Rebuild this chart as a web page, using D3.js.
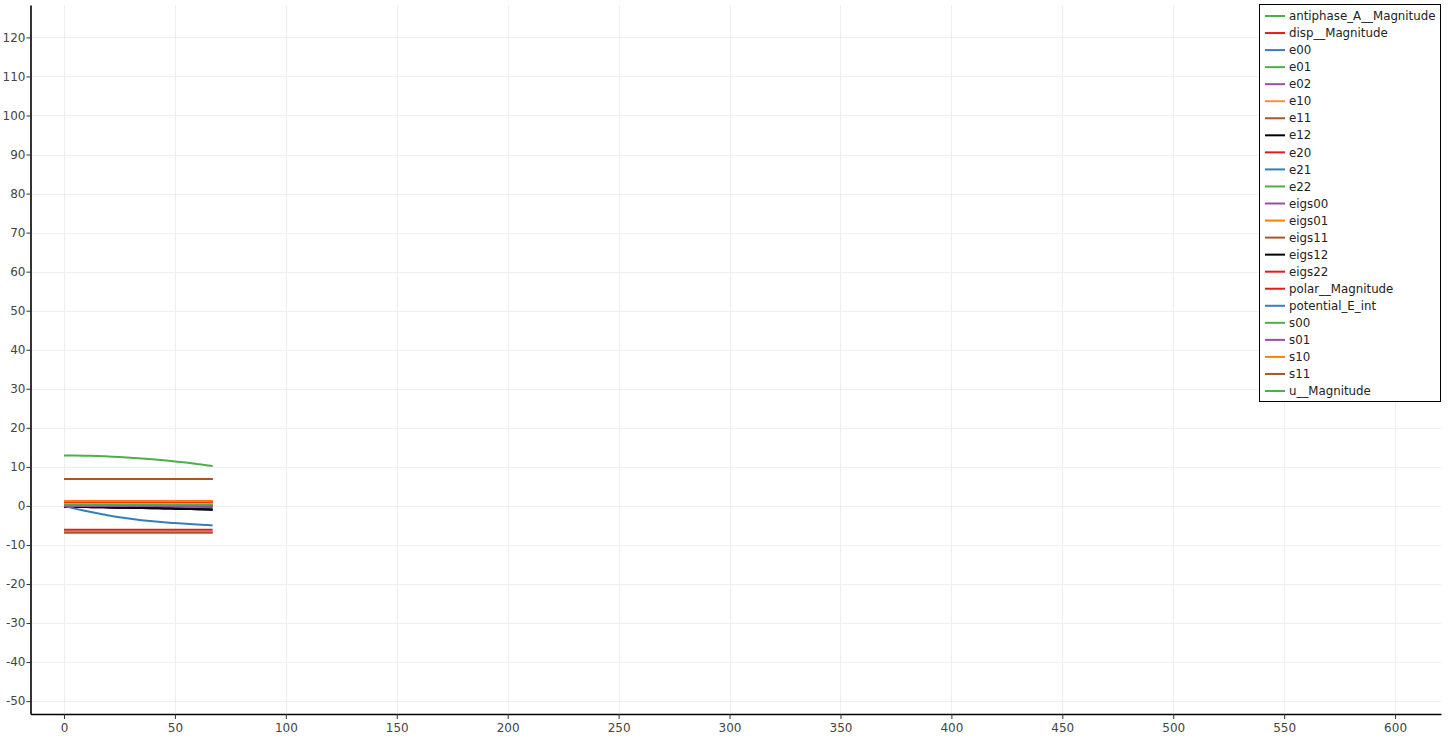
<!DOCTYPE html>
<html><head><meta charset="utf-8">
<script src="https://cdn.jsdelivr.net/npm/d3@7"></script>
<style>
html,body{margin:0;padding:0;background:#fff;}
svg{display:block;font-family:"DejaVu Sans",sans-serif;}
</style></head>
<body><svg id="c" width="1449" height="740"></svg>
<script>
// ---- data ----
const xTicks = [0,50,100,150,200,250,300,350,400,450,500,550,600];
const yTicks = [-50,-40,-30,-20,-10,0,10,20,30,40,50,60,70,80,90,100,110,120];
const xs = [0,5,10,15,20,25,30,35,40,45,50,55,60,65,67];

const seriesNames = ["antiphase_A__Magnitude","disp__Magnitude","e00","e01","e02","e10","e11","e12","e20","e21","e22",
  "eigs00","eigs01","eigs11","eigs12","eigs22","polar__Magnitude","potential_E_int","s00","s01","s10","s11","u__Magnitude"];
const seriesColors = ["#4daf4a","#e41a1c","#377eb8","#4daf4a","#984ea3","#ff8c42","#a65628","#000000","#e41a1c","#377eb8","#4daf4a",
  "#984ea3","#ff7f00","#a65628","#000000","#e41a1c","#e41a1c","#377eb8","#4daf4a","#984ea3","#ff7f00","#a65628","#4daf4a"];

const antiphase_A__Magnitude = [12.9,12.89,12.84,12.77,12.66,12.53,12.36,12.17,11.94,11.69,11.4,11.09,10.74,10.37,10.2];
const disp__Magnitude = [1.0,1.0,1.0,1.0,1.0,1.0,1.0,1.0,1.0,1.0,1.0,1.0,1.0,1.0,1.0];
const e00 = [0.0,-0.05,-0.1,-0.15,-0.2,-0.25,-0.3,-0.35,-0.4,-0.45,-0.5,-0.55,-0.6,-0.65,-0.67];
const e01 = [0.2,0.2,0.2,0.2,0.2,0.2,0.2,0.2,0.2,0.2,0.2,0.2,0.2,0.2,0.2];
const e02 = [0.0,0.0,0.0,0.0,0.0,0.0,0.0,0.0,0.0,0.0,0.0,0.0,0.0,0.0,0.0];
const e10 = [1.1,1.1,1.1,1.1,1.1,1.1,1.1,1.1,1.1,1.1,1.1,1.1,1.1,1.1,1.1];
const e11 = [6.9,6.9,6.9,6.9,6.9,6.9,6.9,6.9,6.9,6.9,6.9,6.9,6.9,6.9,6.9];
const e12 = [-0.2,-0.25,-0.3,-0.35,-0.4,-0.45,-0.5,-0.55,-0.6,-0.65,-0.7,-0.78,-0.86,-0.95,-1.0];
const e20 = [0.95,0.95,0.95,0.95,0.95,0.95,0.95,0.95,0.95,0.95,0.95,0.95,0.95,0.95,0.95];
const e21 = [0.0,-0.02,-0.04,-0.06,-0.08,-0.1,-0.12,-0.14,-0.16,-0.18,-0.2,-0.22,-0.24,-0.26,-0.27];
const e22 = [0.3,0.3,0.3,0.3,0.3,0.3,0.3,0.3,0.3,0.3,0.3,0.3,0.3,0.3,0.3];
const eigs00 = [-6.8,-6.8,-6.8,-6.8,-6.8,-6.8,-6.8,-6.8,-6.8,-6.8,-6.8,-6.8,-6.8,-6.8,-6.8];
const eigs01 = [1.2,1.2,1.2,1.2,1.2,1.2,1.2,1.2,1.2,1.2,1.2,1.2,1.2,1.2,1.2];
const eigs11 = [6.9,6.9,6.9,6.9,6.9,6.9,6.9,6.9,6.9,6.9,6.9,6.9,6.9,6.9,6.9];
const eigs12 = [-0.2,-0.25,-0.3,-0.35,-0.4,-0.45,-0.5,-0.55,-0.6,-0.65,-0.7,-0.78,-0.86,-0.95,-1.0];
const eigs22 = [-6.1,-6.1,-6.1,-6.1,-6.1,-6.1,-6.1,-6.1,-6.1,-6.1,-6.1,-6.1,-6.1,-6.1,-6.1];
const polar__Magnitude = [1.05,1.05,1.05,1.05,1.05,1.05,1.05,1.05,1.05,1.05,1.05,1.05,1.05,1.05,1.05];
const potential_E_int = [0.0,-0.7,-1.3,-1.9,-2.45,-2.9,-3.3,-3.65,-3.95,-4.2,-4.4,-4.6,-4.78,-4.92,-5.0];
const s00 = [0.3,0.3,0.3,0.3,0.3,0.3,0.3,0.3,0.3,0.3,0.3,0.3,0.3,0.3,0.3];
const s01 = [0.0,0.0,0.0,0.0,0.0,0.0,0.0,0.0,0.0,0.0,0.0,0.0,0.0,0.0,0.0];
const s10 = [1.2,1.2,1.2,1.2,1.2,1.2,1.2,1.2,1.2,1.2,1.2,1.2,1.2,1.2,1.2];
const s11 = [-6.8,-6.8,-6.8,-6.8,-6.8,-6.8,-6.8,-6.8,-6.8,-6.8,-6.8,-6.8,-6.8,-6.8,-6.8];
const u__Magnitude = [0.3,0.3,0.3,0.3,0.3,0.3,0.3,0.3,0.3,0.3,0.3,0.3,0.3,0.3,0.3];

const seriesValues = [antiphase_A__Magnitude,disp__Magnitude,e00,e01,e02,e10,e11,e12,e20,e21,e22,
  eigs00,eigs01,eigs11,eigs12,eigs22,polar__Magnitude,potential_E_int,s00,s01,s10,s11,u__Magnitude];

// ---- chart ----
const svg = d3.select("#c");
const L = 30.5, R = 1441, T = 5, B = 714;
const x = d3.scaleLinear().domain([-15.1, 620.7]).range([L, R]);
const y = d3.scaleLinear().domain([-53.3, 128.3]).range([B, T]);

const grid = svg.append("g");
grid.selectAll("line.v").data(xTicks).join("line")
  .attr("x1", d => Math.round(x(d)) + 0.5).attr("x2", d => Math.round(x(d)) + 0.5)
  .attr("y1", T).attr("y2", B).attr("stroke", "#efefef").attr("stroke-width", 1);
grid.selectAll("line.h").data(yTicks).join("line")
  .attr("y1", d => Math.round(y(d)) + 0.5).attr("y2", d => Math.round(y(d)) + 0.5)
  .attr("x1", L).attr("x2", R).attr("stroke", "#efefef").attr("stroke-width", 1);

const line = d3.line().curve(d3.curveMonotoneX).x((d, i) => x(xs[i])).y(d => y(d));
svg.append("g").selectAll("path").data(seriesValues).join("path")
  .attr("d", d => line(d)).attr("fill", "none")
  .attr("stroke", (d, i) => seriesColors[i]).attr("stroke-width", 2);

const fmt = d => String(d);
const xAxis = svg.append("g").attr("transform", `translate(0,${B})`)
  .call(d3.axisBottom(x).tickValues(xTicks).tickFormat(fmt).tickSize(5).tickSizeOuter(0));
const yAxis = svg.append("g").attr("transform", `translate(${L},0)`)
  .call(d3.axisLeft(y).tickValues(yTicks).tickFormat(fmt).tickSize(4).tickSizeOuter(0));
[xAxis, yAxis].forEach(a => {
  a.select(".domain").attr("stroke", "#000").attr("stroke-width", 1.6);
  a.selectAll(".tick line").attr("stroke", "#333");
  a.selectAll(".tick text").attr("fill", "#444").attr("font-size", 12)
    .attr("font-family", '"DejaVu Sans",sans-serif');
});
yAxis.selectAll(".tick text").attr("x", -5);
xAxis.selectAll(".tick text").attr("y", 9);

// legend
const lg = svg.append("g");
lg.append("rect").attr("x", 1259.5).attr("y", 4.5).attr("width", 181).attr("height", 397)
  .attr("fill", "#fff").attr("stroke", "#000").attr("stroke-width", 1);
const rowY = d3.scaleLinear().domain([0, 22]).range([16, 391]);
const items = lg.selectAll("g").data(seriesNames).join("g")
  .attr("transform", (d, i) => `translate(0,${rowY(i)})`);
items.append("line").attr("x1", 1265).attr("x2", 1285).attr("y1", 0).attr("y2", 0)
  .attr("stroke", (d, i) => seriesColors[i]).attr("stroke-width", 2);
items.append("text").attr("x", 1289).attr("y", 0).attr("dy", "0.35em")
  .attr("font-size", 11.8).attr("fill", "#222").text(d => d);
</script></body></html>
